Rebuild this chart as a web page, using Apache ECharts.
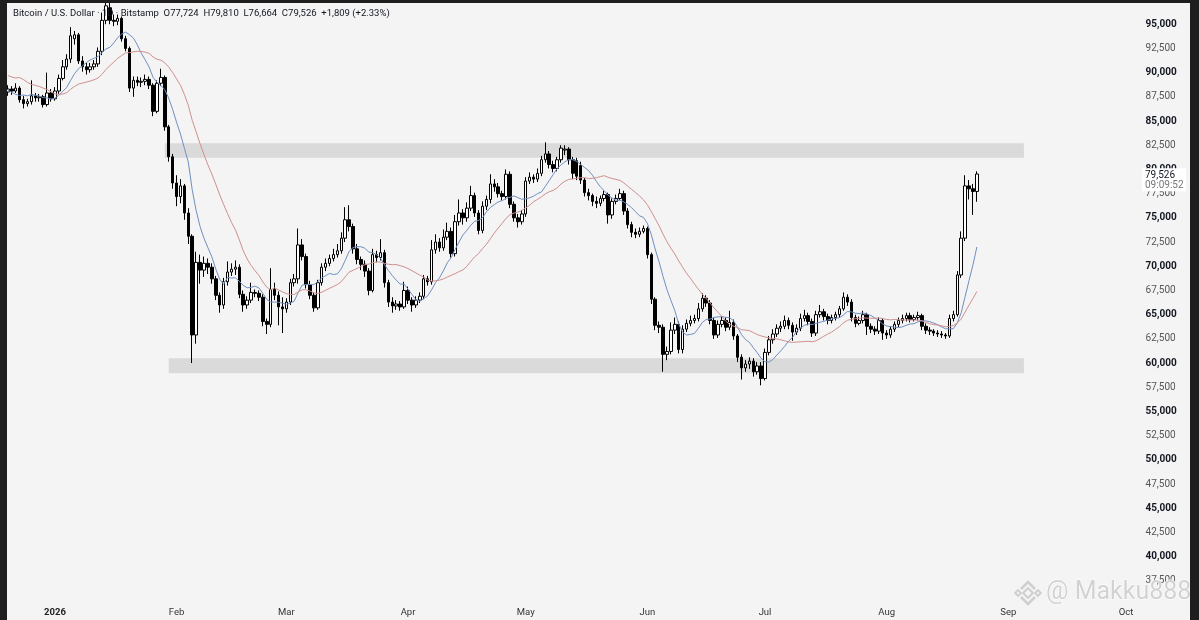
<!DOCTYPE html>
<html><head><meta charset="utf-8">
<script src="https://cdn.jsdelivr.net/npm/echarts@6/dist/echarts.min.js"></script>
<style>html,body{margin:0;padding:0;background:#1e1e1e;overflow:hidden}#c{width:1199px;height:620px}</style>
</head><body><div id="c"></div><script>
// ---- DATA ----
const symbolTitle = 'Bitcoin / U.S. Dollar · 1D · Bitstamp';
const startDay = [2025, 11, 20];   // first candle: 2025-12-20
const axisDays = 290;              // axis runs to early October 2026
const monthLabels = ['2026','Feb','Mar','Apr','May','Jun','Jul','Aug','Sep','Oct','Nov','Dec'];
const priceTicks = [37500,40000,42500,45000,47500,50000,52500,55000,57500,60000,62500,65000,67500,70000,72500,75000,77500,80000,82500,85000,87500,90000,92500,95000];
const upperZone = [81200, 82700];
const lowerZone = [58950, 60500];
const zoneStartUpper = '2026-01-29';
const zoneStartLower = '2026-01-30';
const zoneEnd = '2026-09-05';
const lastTime = '09:09:52';
// closes before the visible window (feed the moving averages)
const priorCloses = [91500,90400,86300,91300,92900,92100,89400,89900,90400,90600,92700,92500,90300,90200,88200,86400,87800,86200,88300,88100];

const opens = [
88000,88300,88100,88400,87200,86800,87000,87600,87400,87500,
86700,87900,87300,88100,89400,90600,91400,93500,93900,91200,
90600,90300,90600,90900,92200,95400,96700,95400,95300,95600,
93500,92500,88400,89200,89000,89100,89300,88700,86000,88900,
89500,84400,81300,78600,77200,78300,75500,73100,62900,70400,
69600,70300,69900,68700,67000,66000,68400,69400,69700,69900,
67100,66000,66500,67300,67200,66800,64300,64000,67600,67000,
65800,65600,66300,68300,68700,72200,71000,68100,67000,65700,
68300,69900,70300,70800,71200,71600,72900,74800,74100,71800,
70700,70200,69500,67500,71200,70900,71400,68300,66300,65900,
66100,65800,67500,66500,66000,66500,66900,68700,68400,71700,
72500,71900,73000,73600,71300,74600,75500,75000,76000,77300,
75500,73700,76200,76900,78500,78200,77500,77200,79500,76400,
75000,74600,75400,78800,79200,79000,79600,81000,81600,80500,
80100,81000,82000,82100,81000,80900,80400,78900,77600,77300,
76700,76500,77000,77400,75300,76700,77000,77500,75700,74300,
73500,73300,73600,73900,71200,66600,63900,63700,60900,61200,
63400,64000,61400,63500,64100,64400,64600,65600,66700,66200,
64400,62900,64000,64400,63700,64200,62800,60600,59500,59900,
60200,59100,59700,58400,61100,62400,63000,63600,63800,64400,
63900,63200,63600,64600,64900,64300,63100,65000,65300,64800,
64400,64700,65000,65600,66800,66300,64700,64100,64400,65000,
63800,63500,63300,64400,63100,62900,63500,64000,64400,64600,
64900,64500,64700,64900,63800,63400,63300,63100,63000,62900,
62800,64600,65000,69100,72900,78300,78000,77724];

const closes = [
88300,88100,88400,87200,86800,87000,87600,87400,87500,86700,
87900,87300,88100,89400,90600,91400,93800,93900,91200,90600,
90300,90600,90900,92200,95400,96900,95400,95300,95600,93500,
92500,88400,89200,89000,89100,89300,88700,86000,88900,89500,
84400,81300,78600,77200,78300,75500,73100,62900,70400,69600,
70300,69900,68700,67000,66000,68400,69400,69700,69900,67100,
66000,66500,67300,67200,66800,64300,64000,67600,67000,65800,
65600,66300,68300,68700,72200,71000,68100,67000,65700,68300,
69900,70300,70800,71200,71600,72900,74800,74100,71800,70700,
70200,69500,67500,71200,70900,71400,68300,66300,65900,66100,
65800,67500,66500,66000,66500,66900,68700,68400,71700,72500,
71900,73000,73600,71300,74600,75500,75000,76000,77300,75500,
73700,76200,76900,78500,78200,77500,77200,79500,76400,75000,
74600,75400,78800,79200,79000,79600,81000,81600,80500,80100,
81000,82200,82100,81000,79600,79300,78900,77600,77300,76700,
76500,77000,77400,75300,76700,77000,77500,75700,74300,73500,
73300,73600,73900,71200,66600,63900,63700,60900,61200,63400,
64000,61400,63500,64100,64400,64600,65600,66700,66200,64400,
62900,64000,64400,63700,64200,62800,60600,59500,59900,60200,
59100,59700,58400,61100,62400,63000,63600,63800,64400,63900,
63200,63600,64600,64900,64300,63100,65000,65300,64800,64400,
64700,65000,65600,66800,66300,64700,64100,64400,65000,63800,
63500,63300,64400,63100,62900,63500,64000,64400,64600,64900,
64500,64700,64900,63800,63400,63300,63100,63000,62900,62800,
64600,65000,69100,72900,78300,78000,77717,79526];

const lows = [
87600,87700,87900,86900,86300,86500,86700,87000,87000,86400,
86500,87000,87100,87800,89200,90300,91000,92900,90900,90100,
89800,90000,90300,90600,91800,95000,95000,94800,94900,93200,
92200,88000,87500,88600,88500,88700,88300,85500,85800,88600,
84000,80800,78000,76200,76500,74800,72300,60000,62000,68200,
68900,69200,68200,66500,65200,65600,68000,69000,69100,66700,
65300,65600,66200,66800,66400,63800,63000,63700,66500,63900,
63100,65200,66000,67900,68200,70600,67700,66600,65300,65500,
68000,69500,70000,70500,70900,71300,72500,73600,71300,70200,
69600,68900,67000,67300,70400,70600,67800,65800,65200,65500,
65400,65600,66100,65300,65700,66200,66600,68000,68100,71300,
71500,71600,72700,70900,71000,74200,74300,74600,75700,75100,
73300,73400,75800,76500,77700,77100,76800,76900,76000,74600,
74000,74300,75100,78500,78600,78700,79300,80700,80100,79700,
79800,80700,81500,80500,79000,78900,78500,77200,76800,76200,
76000,76200,76700,74400,74900,76400,76800,75300,73900,73000,
72900,73000,73400,70800,66100,63400,63100,59100,60300,60900,
63000,61000,61000,63200,63800,64100,64300,65300,65800,64000,
62500,62600,63700,63300,63400,62400,60100,58300,59100,59400,
58600,58800,57700,58200,60800,62000,62700,63200,63500,63500,
62300,62900,63300,64300,63900,62700,62800,64700,64400,64000,
64100,64400,64700,65400,65900,64300,63700,63900,64100,62900,
63100,62900,63000,62400,62500,62600,63200,63700,64100,64300,
64200,64300,64400,63400,63000,62900,62800,62700,62600,62500,
62600,64300,64800,68800,72600,76900,75300,76664];

const highs = [
88700,88600,88900,88600,87600,87300,89200,87900,87800,87700,
90000,88300,88500,89800,91300,91900,94700,94300,94100,91700,
91000,91000,91300,92600,96200,97900,97400,96000,96000,95800,
93800,92700,89600,89600,89500,89800,89600,88900,89200,90400,
89700,84600,81600,79400,79000,78500,76000,73300,71500,71200,
71000,70800,70300,69000,67300,68800,70500,70300,70600,70200,
67500,66900,68300,67600,67500,67100,64600,69800,68300,67400,
66800,66700,68700,69200,73900,72800,71300,68500,67300,68600,
70300,70800,71200,71800,72300,73500,76100,76300,74400,72300,
71000,70600,69800,71800,71600,72800,71700,68600,66800,66500,
66400,68400,67900,66800,66900,67300,69100,69000,72700,73300,
72900,73800,74500,74000,75300,76900,75900,76600,78300,77600,
75800,76700,77300,79500,79000,78600,77800,80000,79800,76700,
75400,75800,79200,79700,79500,80100,81400,82800,81900,80900,
81300,82500,82500,82300,81300,81200,80800,79100,78000,77500,
77200,77300,77800,77600,77000,77400,78000,77800,76000,74600,
73900,74000,74200,74100,71400,66800,64300,64000,61700,64200,
64700,64300,63900,64500,64900,65000,66200,67200,67000,66500,
64700,64400,64800,64700,65400,64500,63000,60900,60300,60600,
60500,60100,60100,61500,62800,63500,64000,64300,64900,64700,
64200,64000,65100,65500,65200,64600,65400,66000,65600,65100,
65000,65300,65900,67300,67100,66600,65000,64800,65400,65200,
64100,63800,64700,64600,63400,63800,64300,64700,65000,65200,
65200,65000,65300,65100,64100,63700,63500,63400,63300,63100,
65000,65400,69500,73600,79400,78900,78500,79810];

const fastMaLength = 9;
const slowMaLength = 21;

// ---- BUILD ----
const FONT = 'Roboto, "Noto Sans", sans-serif';
const dates = [];
const t0 = Date.UTC(startDay[0], startDay[1], startDay[2]);
for (let k = 0; k < axisDays; k++) dates.push(new Date(t0 + k * 86400000).toISOString().slice(0, 10));

const candles = opens.map((o, i) => [o, closes[i], lows[i], highs[i]]);
const allCloses = priorCloses.concat(closes);
function sma(n) {
  const off = priorCloses.length;
  return closes.map((_, i) => {
    let s = 0;
    for (let k = i + off - n + 1; k <= i + off; k++) s += allCloses[k];
    return +(s / n).toFixed(1);
  });
}
const fmt = v => Math.round(v).toLocaleString('en-US');
const last = closes.length - 1;
const chg = closes[last] - closes[last - 1];
const pct = chg / closes[last - 1] * 100;
const titleText = symbolTitle + '  O' + fmt(opens[last]) + '  H' + fmt(highs[last]) + '  L' + fmt(lows[last]) +
  '  C' + fmt(closes[last]) + '  ' + (chg >= 0 ? '+' : '') + fmt(chg) + ' (' + (chg >= 0 ? '+' : '') + pct.toFixed(2) + '%)';

const chart = echarts.init(document.getElementById('c'));
chart.setOption({
  animation: false,
  backgroundColor: '#f4f4f4',
  grid: { left: 5.9, right: 55.4, top: -3.86, bottom: 14.9, containLabel: false },
  xAxis: {
    type: 'category', data: dates, boundaryGap: true,
    axisLine: { show: false }, axisTick: { show: false }, splitLine: { show: false },
    axisLabel: {
      interval: (idx, val) => val.slice(8) === '01',
      margin: 3, fontSize: 9.5, color: '#333', fontFamily: FONT,
      formatter: val => {
        const m = +val.slice(5, 7) - 1;
        return m === 0 ? '{y|' + val.slice(0, 4) + '}' : monthLabels[m];
      },
      rich: { y: { fontWeight: 'bold', fontSize: 9.5, color: '#222', fontFamily: FONT } }
    }
  },
  yAxis: {
    type: 'value', position: 'right', min: 35000, max: 97500, interval: 2500,
    axisLine: { show: false }, axisTick: { show: false }, splitLine: { show: false },
    axisLabel: {
      margin: 2, fontFamily: FONT,
      formatter: v => priceTicks.indexOf(v) < 0 ? '' : (v % 5000 === 0 ? '{b|' + fmt(v) + '}' : '{n|' + fmt(v) + '}'),
      rich: {
        b: { fontWeight: 'bold', fontSize: 10, color: '#131722', fontFamily: FONT },
        n: { fontSize: 10, color: '#555', fontFamily: FONT }
      }
    }
  },
  series: [
    {
      type: 'candlestick', data: candles, barWidth: 3,
      itemStyle: { color: '#ffffff', color0: '#000000', borderColor: '#000000', borderColor0: '#000000', borderWidth: 1 },
      markArea: {
        silent: true, itemStyle: { color: '#dadada' },
        data: [
          [{ xAxis: zoneStartUpper, yAxis: upperZone[0] }, { xAxis: zoneEnd, yAxis: upperZone[1] }],
          [{ xAxis: zoneStartLower, yAxis: lowerZone[0] }, { xAxis: zoneEnd, yAxis: lowerZone[1] }]
        ]
      },
      z: 3
    },
    { type: 'line', data: sma(fastMaLength), showSymbol: false, smooth: false, lineStyle: { width: 1, color: '#6f8fbf' }, z: 4 },
    { type: 'line', data: sma(slowMaLength), showSymbol: false, smooth: false, lineStyle: { width: 1, color: '#cf8f8f' }, z: 4 }
  ]
});

const py = chart.convertToPixel({ yAxisIndex: 0 }, closes[last]);
chart.setOption({
  graphic: [
    { type: 'text', left: 13, top: 9, z: 100, zlevel: 1, style: { text: titleText, fontSize: 9.5, fill: '#131722', fontFamily: FONT } },
    { type: 'rect', shape: { x: 1142, y: py - 5.7, width: 44, height: 23 }, style: { fill: '#ffffff' }, z: 20 },
    { type: 'text', x: 1145, y: py + 1.3, z: 21, style: { text: fmt(closes[last]), fontSize: 10, fill: '#131722', fontFamily: FONT, verticalAlign: 'middle' } },
    { type: 'text', x: 1145, y: py + 11.3, z: 21, style: { text: lastTime, fontSize: 10, fill: '#777', fontFamily: FONT, verticalAlign: 'middle' } },
    // watermark
    { type: 'group', x: 1028, y: 593, z: 15, children: [
      { type: 'rect', shape: { x: -3.5, y: -3.5, width: 7, height: 7 }, rotation: Math.PI / 4, style: { fill: 'none', stroke: '#cfcfcf', lineWidth: 2 } },
      { type: 'rect', shape: { x: -2, y: -2, width: 4, height: 4 }, x: -10, rotation: Math.PI / 4, style: { fill: 'none', stroke: '#cfcfcf', lineWidth: 2 } },
      { type: 'rect', shape: { x: -2, y: -2, width: 4, height: 4 }, x: 10, rotation: Math.PI / 4, style: { fill: 'none', stroke: '#cfcfcf', lineWidth: 2 } },
      { type: 'polyline', shape: { points: [[-7, -4], [0, -11], [7, -4]] }, style: { stroke: '#cfcfcf', lineWidth: 2.5, fill: 'none' } },
      { type: 'polyline', shape: { points: [[-7, 4], [0, 11], [7, 4]] }, style: { stroke: '#cfcfcf', lineWidth: 2.5, fill: 'none' } }
    ] },
    { type: 'text', x: 1046, y: 593, z: 15, style: { text: '@ Makku888', fontSize: 25, fill: '#d2d2d2', stroke: '#ffffff', lineWidth: 1, fontFamily: FONT, verticalAlign: 'middle' } },
    // dark frame
    { type: 'rect', shape: { x: 0, y: 0, width: 7, height: 620 }, style: { fill: '#1e1e1e' }, z: 50, zlevel: 2 },
    { type: 'rect', shape: { x: 0, y: 0, width: 1199, height: 3 }, style: { fill: '#1e1e1e' }, z: 50, zlevel: 2 },
    { type: 'rect', shape: { x: 1190, y: 0, width: 9, height: 620 }, style: { fill: '#1e1e1e' }, z: 50, zlevel: 2 }
  ]
});
</script></body></html>
